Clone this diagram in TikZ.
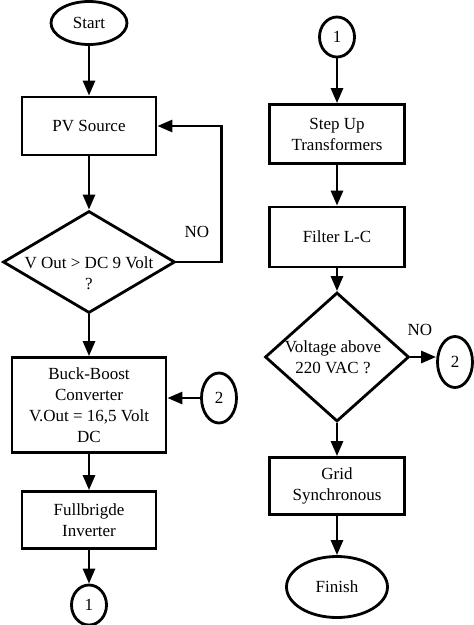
\documentclass[tikz,border=0pt]{standalone}
\usepackage{fontspec}
\setmainfont{Liberation Serif}
\usetikzlibrary{shapes.geometric,arrows.meta}
\begin{document}
\begin{tikzpicture}[x=1pt,y=-1pt,line width=2.8pt,
  font=\fontsize{17}{21}\selectfont,
  box/.style={draw,rectangle,minimum width=134pt,align=center,inner sep=2pt},
  term/.style={draw,ellipse,inner sep=0pt},
  conn/.style={draw,ellipse,minimum width=35pt,minimum height=40pt,inner sep=0pt},
  decision/.style={draw,diamond,inner sep=0pt},
  flow/.style={-{Triangle[length=15pt,width=12pt]}}]
\useasboundingbox (0,0) rectangle (474,625);
% left column
\node (start) [term, minimum width=76pt, minimum height=43pt] at (89,23) {Start};
\node (pv) [box, minimum height=58pt] at (89,126) {PV Source};
\node (check) [decision, minimum width=172pt, minimum height=102pt] at (89,262) {};
\node (checktext) [align=center] at (89,273) {V Out > DC 9 Volt\\?};
\node (buck) [box, minimum width=154pt, minimum height=95pt] at (89,405) {Buck-Boost\\Converter\\V.Out = 16,5 Volt\\DC};
\node (inv) [box, minimum height=57pt] at (89,520) {Fullbrigde\\Inverter};
\node (onea) [conn] at (89,605) {1};
\node (twoa) [conn, minimum height=50pt] at (219,398) {2};
\node (noa) at (197,232) {NO};
% right column
\node (oneb) [conn] at (337,37) {1};
\node (stepup) [box, minimum width=135pt, minimum height=59pt] at (337,134) {Step Up\\Transformers};
\node (filter) [box, minimum width=135pt, minimum height=60pt] at (337,237) {Filter L-C};
\node (vcheck) [decision, minimum width=144pt, minimum height=129pt] at (337,357) {};
\node (vchecktext) [align=center] at (333,357) {Voltage above\\220 VAC ?};
\node (grid) [box, minimum width=135pt, minimum height=57pt] at (337,486) {Grid\\Synchronous};
\node (finish) [term, minimum width=101pt, minimum height=61pt] at (337,587) {Finish};
\node (twob) [conn, minimum height=51pt] at (455,362) {2};
\node (nob) at (420,330) {NO};
% connectors
\draw [flow] (start) -- (pv);
\draw [flow] (pv) -- (check);
\draw [flow] (check) -- (buck);
\draw [flow] (buck) -- (inv);
\draw [flow] (inv) -- (onea);
\draw [flow] (check.east) -- ++(45,0) |- (pv.east);
\draw [flow] (twoa.west) -- (twoa.west -| buck.east);
\draw [flow] (oneb) -- (stepup);
\draw [flow] (stepup) -- (filter);
\draw [flow] (filter) -- (vcheck);
\draw [flow] (vcheck) -- (grid);
\draw [flow] (grid) -- (finish);
\draw [flow] (vcheck.east) -- (vcheck.east -| twob.west);
\end{tikzpicture}
\end{document}
